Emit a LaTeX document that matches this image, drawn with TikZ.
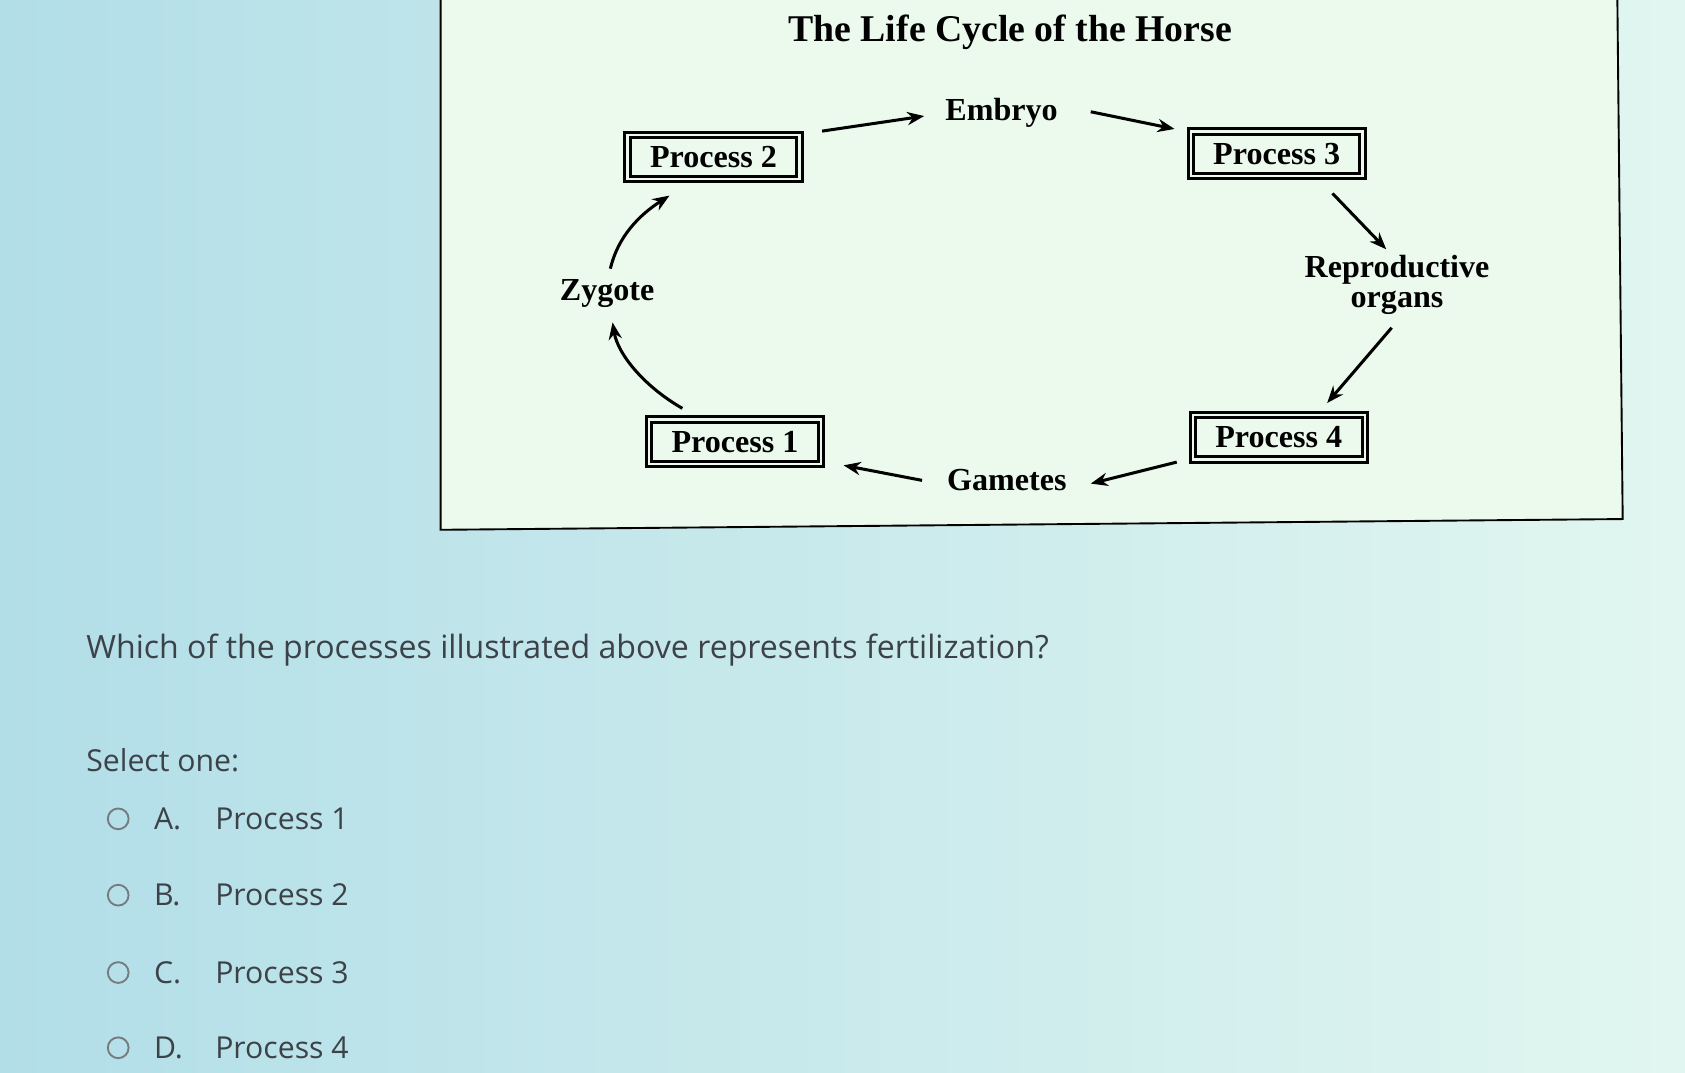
\documentclass[tikz,border=0pt]{standalone}
\usepackage{fontspec}
\setmainfont{Liberation Serif}
\newfontfamily\qfont{Open Sans}
\usetikzlibrary{arrows.meta}
\definecolor{bgl}{RGB}{178,222,232}
\definecolor{bgr}{RGB}{225,246,240}
\definecolor{boxbg}{RGB}{236,250,238}
\definecolor{qtext}{RGB}{60,66,72}
\tikzset{
  procbox/.style={draw=black, line width=1.6pt, double=boxbg, double distance=1.2pt, inner sep=6pt, minimum width=3.2cm, minimum height=0.82cm, font=\fontsize{17}{19}\selectfont\bfseries, fill=boxbg},
  lbl/.style={font=\fontsize{17}{18}\selectfont\bfseries, align=center, inner sep=1pt},
  cyc/.style={line width=1.6pt, -{Stealth[length=9pt,width=7pt]}},
  opt/.style={font=\qfont\fontsize{16}{18}\selectfont, text=qtext, anchor=west, inner sep=0pt},
  radio/.style={circle, draw=qtext!70, line width=1pt, minimum size=11pt, inner sep=0pt}
}
\begin{document}
\begin{tikzpicture}[x=0.02cm,y=-0.02cm]
\useasboundingbox (0,0) rectangle (1568,998);
\shade[left color=bgl, right color=bgr] (0,0) rectangle (1568,998);
\draw[line width=1pt, fill=boxbg] (410,-5) -- (410,493) -- (1510,483) -- (1505,-5);
\node[font=\fontsize{20}{22}\selectfont\bfseries] (title) at (940,30) {The Life Cycle of the Horse};
\node[procbox] (p2) at (664,146) {Process 2};
\node[procbox] (p3) at (1188,143) {Process 3};
\node[procbox] (p1) at (684,411) {Process 1};
\node[procbox] (p4) at (1190,407) {Process 4};
\node[lbl] (emb) at (932,105) {Embryo};
\node[lbl] (zyg) at (565,273) {Zygote};
\node[lbl, font=\fontsize{17}{16}\selectfont\bfseries] (rep) at (1300,265) {Reproductive\\organs};
\node[lbl] (gam) at (937,447) {Gametes};
\coordinate (e1) at (765,122);
\draw[cyc] (e1) -- (860,108);
\draw[cyc] (1015,104) -- (1093,120);
\draw[cyc] (1240,180) -- (1290,232);
\draw[cyc] (1295,305) -- (1235,375);
\draw[cyc] (1095,430) -- (1015,450);
\draw[cyc] (858,447) -- (785,433);
\draw[cyc] (635,380) .. controls (600,360) and (575,330) .. (570,300);
\draw[cyc] (568,250) .. controls (575,220) and (595,200) .. (623,182);
\node[opt, font=\qfont\fontsize{17}{19}\selectfont] (q) at (80,605) {Which of the processes illustrated above represents fertilization?};
\node[opt] (sel) at (80,707) {Select one:};
\foreach \y/\l/\n in {762/A/1, 833/B/2, 905/C/3, 975/D/4}{
  \node[radio] (r\n) at (110,\y) {};
  \node[opt] (l\n) at (143,\y) {\l.};
  \node[opt] (t\n) at (200,\y) {Process \n};
}
\end{tikzpicture}
\end{document}
